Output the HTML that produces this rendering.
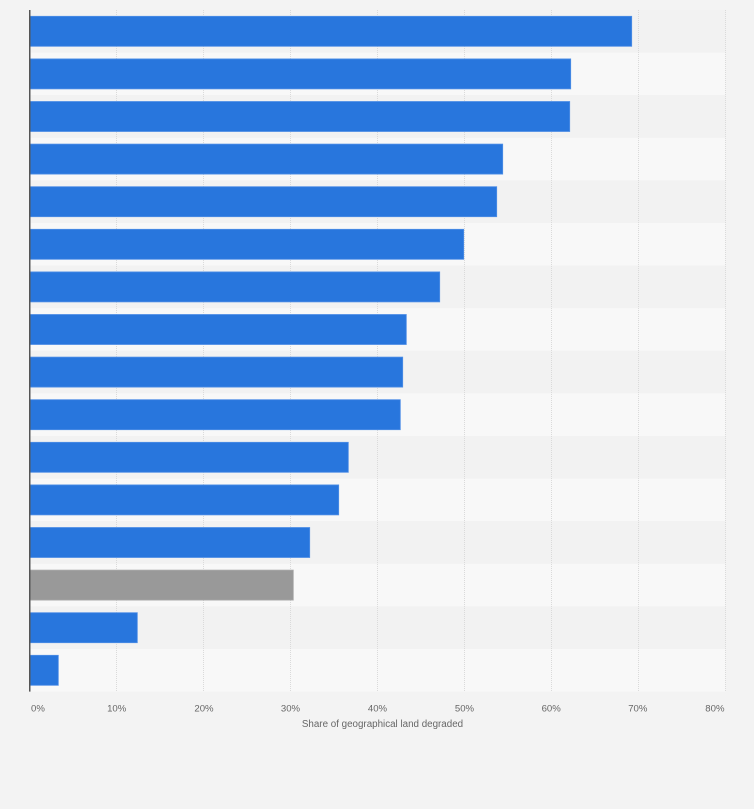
<!DOCTYPE html>
<html>
<head>
<meta charset="utf-8">
<style>
html,body{margin:0;padding:0;background:#f3f3f3;}
svg{display:block;}
text{font-family:"Liberation Sans",Arial,sans-serif;fill:#666;}
</style>
</head>
<body>
<svg width="754" height="809" viewBox="0 0 754 809" xmlns="http://www.w3.org/2000/svg">
<rect x="0" y="0" width="754" height="809" fill="#f3f3f3"/>
<!-- stripes -->
<g>
<rect x="30" y="10" width="695.7" height="42.6" fill="#f2f2f2"/>
<rect x="30" y="52.6" width="695.7" height="42.6" fill="#f8f8f8"/>
<rect x="30" y="95.2" width="695.7" height="42.6" fill="#f2f2f2"/>
<rect x="30" y="137.8" width="695.7" height="42.6" fill="#f8f8f8"/>
<rect x="30" y="180.4" width="695.7" height="42.6" fill="#f2f2f2"/>
<rect x="30" y="223" width="695.7" height="42.6" fill="#f8f8f8"/>
<rect x="30" y="265.6" width="695.7" height="42.6" fill="#f2f2f2"/>
<rect x="30" y="308.2" width="695.7" height="42.6" fill="#f8f8f8"/>
<rect x="30" y="350.8" width="695.7" height="42.6" fill="#f2f2f2"/>
<rect x="30" y="393.4" width="695.7" height="42.6" fill="#f8f8f8"/>
<rect x="30" y="436" width="695.7" height="42.6" fill="#f2f2f2"/>
<rect x="30" y="478.6" width="695.7" height="42.6" fill="#f8f8f8"/>
<rect x="30" y="521.2" width="695.7" height="42.6" fill="#f2f2f2"/>
<rect x="30" y="563.8" width="695.7" height="42.6" fill="#f8f8f8"/>
<rect x="30" y="606.4" width="695.7" height="42.6" fill="#f2f2f2"/>
<rect x="30" y="649" width="695.7" height="42.6" fill="#f8f8f8"/>
</g>
<!-- gridlines -->
<g stroke="#dadada" stroke-width="1" stroke-dasharray="1,1">
<line x1="116.5" y1="10" x2="116.5" y2="691.6"/>
<line x1="203.5" y1="10" x2="203.5" y2="691.6"/>
<line x1="290.5" y1="10" x2="290.5" y2="691.6"/>
<line x1="377.5" y1="10" x2="377.5" y2="691.6"/>
<line x1="464.5" y1="10" x2="464.5" y2="691.6"/>
<line x1="551.5" y1="10" x2="551.5" y2="691.6"/>
<line x1="638.5" y1="10" x2="638.5" y2="691.6"/>
<line x1="725.5" y1="10" x2="725.5" y2="691.6"/>
</g>
<!-- bars -->
<g fill="#2876dd" stroke="#4f8fe6" stroke-width="0.8">
<rect x="30" y="16.3" width="601.7" height="30"/>
<rect x="30" y="58.9" width="540.7" height="30"/>
<rect x="30" y="101.5" width="539.7" height="30"/>
<rect x="30" y="144.1" width="472.7" height="30"/>
<rect x="30" y="186.7" width="466.7" height="30"/>
<rect x="30" y="229.3" width="433.7" height="30"/>
<rect x="30" y="271.9" width="409.7" height="30"/>
<rect x="30" y="314.5" width="376.3" height="30"/>
<rect x="30" y="357.1" width="372.7" height="30"/>
<rect x="30" y="399.7" width="370.3" height="30"/>
<rect x="30" y="442.3" width="318.3" height="30"/>
<rect x="30" y="484.9" width="308.7" height="30"/>
<rect x="30" y="527.5" width="279.7" height="30"/>
<rect x="30" y="612.7" width="107.3" height="30"/>
<rect x="30" y="655.3" width="28.3" height="30"/>
</g>
<rect x="30" y="570.1" width="263.3" height="30" fill="#999999" stroke="#aaaaaa" stroke-width="0.8"/>
<!-- axis -->
<rect x="29" y="10" width="1.5" height="681.6" fill="#555"/>
<!-- tick labels -->
<g font-size="9.6">
<text x="31" y="711.5">0%</text>
<text x="116.7" y="711.5" text-anchor="middle">10%</text>
<text x="204" y="711.5" text-anchor="middle">20%</text>
<text x="290.5" y="711.5" text-anchor="middle">30%</text>
<text x="377.5" y="711.5" text-anchor="middle">40%</text>
<text x="464.5" y="711.5" text-anchor="middle">50%</text>
<text x="551.2" y="711.5" text-anchor="middle">60%</text>
<text x="637.8" y="711.5" text-anchor="middle">70%</text>
<text x="724.5" y="711.5" text-anchor="end">80%</text>
</g>
<text x="382.5" y="727" font-size="9.8" text-anchor="middle">Share of geographical land degraded</text>
</svg>
</body>
</html>
